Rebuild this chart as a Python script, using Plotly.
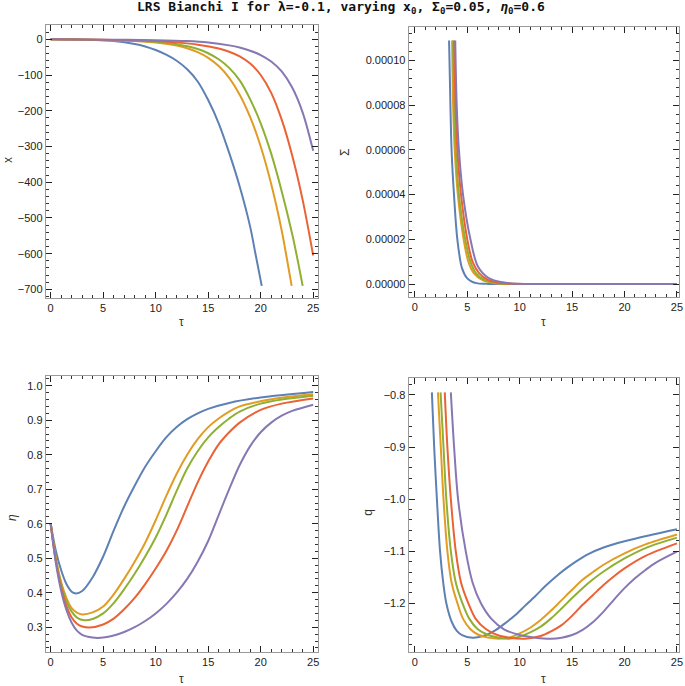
import plotly.graph_objects as go

COLORS = ["#5E81B5", "#E19C24", "#8FB032", "#EB6235", "#8778B3"]
SERIES = ["blue", "orange", "green", "red", "purple"]

# ---- panel 1: x(tau) ----
x_tau = {
    "blue":   [0, 2, 4, 6, 8, 9, 10, 11, 12, 13, 14, 15, 16, 17, 18, 19, 19.5, 20.1],
    "orange": [0, 4, 8, 10, 12, 13, 14, 15, 16, 17, 18, 19, 20, 21, 22, 22.5, 22.95],
    "green":  [0, 4, 8, 10, 12, 14, 15, 16, 17, 18, 19, 20, 21, 22, 23, 23.5, 24.0],
    "red":    [0, 5, 10, 12, 14, 16, 17, 18, 19, 20, 21, 22, 23, 24, 25],
    "purple": [0, 5, 10, 13, 15, 17, 18, 19, 20, 21, 22, 23, 24, 25],
}
x_val = {
    "blue":   [0, -0.5, -2, -5, -13, -20, -30, -43, -60, -84, -118, -170, -235, -318, -412, -525, -600, -690],
    "orange": [0, -1.5, -4.5, -9, -17.5, -25, -36, -52, -75, -108, -155, -218, -300, -405, -535, -615, -690],
    "green":  [0, -1.5, -4, -7, -14, -27, -39, -56, -80, -115, -168, -235, -320, -425, -545, -615, -690],
    "red":    [0, -1.5, -5, -9, -15, -26, -35, -48, -68, -100, -150, -225, -325, -450, -605],
    "purple": [0, -1, -2.5, -5, -9, -17, -23, -32, -44, -62, -90, -135, -205, -312],
}

# ---- panel 2: Sigma(tau) ----
s_tau = {
    "blue":   [3.26, 3.39, 3.5, 3.73, 4.05, 4.5, 5.0, 5.5, 6.0, 7, 8, 25],
    "orange": [3.55, 3.65, 3.8, 4.1, 4.65, 5.1, 5.6, 6.5, 7.5, 9, 10, 25],
    "green":  [3.65, 3.75, 3.9, 4.2, 4.8, 5.3, 5.8, 6.7, 7.8, 9, 10, 25],
    "red":    [3.75, 3.88, 4.05, 4.4, 5.0, 5.5, 6.1, 7.0, 8.2, 9.5, 11, 25],
    "purple": [3.85, 3.99, 4.2, 4.59, 5.3, 6.0, 7.0, 8.0, 9.0, 10, 11, 25],
}
s_val = {
    "blue":   [1.09e-4, 8e-5, 6e-5, 4e-5, 2e-5, 7e-6, 2.5e-6, 9e-7, 3e-7, 5e-8, 0, 0],
    "orange": [1.09e-4, 8e-5, 6e-5, 4e-5, 2e-5, 1e-5, 5e-6, 1.6e-6, 5e-7, 1e-7, 0, 0],
    "green":  [1.09e-4, 8e-5, 6e-5, 4e-5, 2e-5, 1e-5, 5e-6, 1.6e-6, 5e-7, 1e-7, 0, 0],
    "red":    [1.09e-4, 8e-5, 6e-5, 4e-5, 2e-5, 1e-5, 5e-6, 1.8e-6, 5e-7, 1e-7, 0, 0],
    "purple": [1.09e-4, 8e-5, 6e-5, 4e-5, 2e-5, 8e-6, 2.8e-6, 1.1e-6, 4e-7, 1e-7, 0, 0],
}

# ---- panel 3: eta(tau) ----
e_tau = {
    "blue":   [0, 0.5, 1, 1.5, 2, 2.4, 3, 4, 5, 6, 7, 8, 9, 10, 11, 12, 13, 14, 15, 17, 20, 25],
    "orange": [0, 0.5, 1, 1.5, 2, 2.5, 3, 4, 5, 6, 7, 8, 9, 10, 11, 12, 13, 14, 15, 16, 17, 18, 20, 22, 25],
    "green":  [0, 0.5, 1, 1.5, 2, 2.5, 3.2, 4, 5, 6, 7, 8, 9, 10, 11, 12, 13, 14, 15, 16, 17, 18, 20, 22, 25],
    "red":    [0, 0.5, 1, 1.5, 2, 2.5, 3, 3.7, 5, 6, 7, 8, 9, 10, 11, 12, 13, 14, 15, 16, 17, 18, 20, 22, 25],
    "purple": [0, 0.5, 1, 1.5, 2, 2.5, 3, 4, 4.5, 5, 6, 7, 8, 9, 10, 11, 12, 13, 14, 15, 16, 17, 18, 19, 20, 21, 22, 23, 25],
}
e_val = {
    "blue":   [0.6, 0.52, 0.465, 0.425, 0.403, 0.398, 0.405, 0.445, 0.505, 0.58, 0.65, 0.71, 0.765, 0.81, 0.85, 0.88, 0.903, 0.92, 0.933, 0.95, 0.966, 0.982],
    "orange": [0.6, 0.5, 0.43, 0.385, 0.355, 0.342, 0.337, 0.343, 0.36, 0.395, 0.44, 0.49, 0.545, 0.61, 0.68, 0.745, 0.80, 0.845, 0.88, 0.905, 0.925, 0.94, 0.955, 0.965, 0.975],
    "green":  [0.6, 0.495, 0.425, 0.375, 0.345, 0.328, 0.32, 0.324, 0.34, 0.37, 0.41, 0.455, 0.505, 0.56, 0.625, 0.695, 0.76, 0.81, 0.85, 0.88, 0.905, 0.925, 0.948, 0.96, 0.971],
    "red":    [0.6, 0.49, 0.415, 0.362, 0.328, 0.31, 0.302, 0.299, 0.308, 0.325, 0.352, 0.385, 0.425, 0.47, 0.52, 0.58, 0.65, 0.72, 0.78, 0.83, 0.865, 0.893, 0.93, 0.948, 0.963],
    "purple": [0.6, 0.485, 0.405, 0.35, 0.313, 0.29, 0.278, 0.27, 0.269, 0.27, 0.276, 0.286, 0.30, 0.318, 0.34, 0.367, 0.40, 0.44, 0.49, 0.55, 0.625, 0.70, 0.77, 0.825, 0.865, 0.893, 0.913, 0.927, 0.945],
}

# ---- panel 4: q(tau) ----
q_tau = {
    "blue":   [1.62, 1.84, 2.1, 2.4, 2.7, 3.0, 3.5, 4, 4.5, 5.5, 6.5, 7.5, 8.5, 9.5, 10.5, 11.5, 12.5, 13.5, 14.5, 15.5, 16.5, 18, 20, 22.5, 25],
    "orange": [2.2, 2.47, 2.73, 3.1, 3.5, 4.06, 4.6, 5.3, 6, 7, 8, 9, 10, 11, 12, 13, 14, 15, 16, 17, 18, 20, 22, 25],
    "green":  [2.45, 2.73, 3.0, 3.43, 3.9, 4.54, 5.2, 6.0, 7, 8, 9, 10, 11, 12, 13, 14, 15, 16, 17, 18, 20, 22, 25],
    "red":    [2.85, 3.1, 3.43, 3.9, 4.4, 5.1, 5.8, 6.8, 8, 9, 10.5, 12, 13, 14, 15, 16, 17, 18, 19, 20, 22, 25],
    "purple": [3.43, 3.74, 4.12, 4.85, 5.5, 6.3, 7.3, 8.5, 10, 11.5, 13, 14, 15, 16, 17, 18, 19, 20, 21, 22, 23, 25],
}
q_val = {
    "blue":   [-0.795, -0.9, -1.0, -1.1, -1.16, -1.2, -1.235, -1.253, -1.261, -1.266, -1.263, -1.254, -1.24, -1.224, -1.205, -1.186, -1.166, -1.148, -1.132, -1.118, -1.106, -1.093, -1.081, -1.069, -1.058],
    "orange": [-0.795, -0.9, -1.0, -1.1, -1.16, -1.2, -1.23, -1.25, -1.26, -1.266, -1.268, -1.266, -1.258, -1.247, -1.232, -1.214, -1.194, -1.174, -1.155, -1.14, -1.126, -1.104, -1.087, -1.068],
    "green":  [-0.795, -0.9, -1.0, -1.1, -1.16, -1.2, -1.23, -1.25, -1.261, -1.266, -1.268, -1.264, -1.256, -1.245, -1.229, -1.21, -1.19, -1.171, -1.154, -1.139, -1.114, -1.094, -1.074],
    "red":    [-0.795, -0.9, -1.0, -1.1, -1.16, -1.2, -1.23, -1.25, -1.262, -1.266, -1.268, -1.263, -1.254, -1.242, -1.224, -1.203, -1.184, -1.165, -1.148, -1.133, -1.109, -1.085],
    "purple": [-0.795, -0.9, -1.0, -1.1, -1.16, -1.2, -1.23, -1.25, -1.261, -1.266, -1.268, -1.266, -1.261, -1.251, -1.236, -1.216, -1.193, -1.171, -1.152, -1.136, -1.122, -1.101],
}

TITLE = "LRS Bianchi I for λ=-0.1, varying x<sub>0</sub>, Σ<sub>0</sub>=0.05, <i>η</i><sub>0</sub>=0.6"

fig = go.Figure()
panels = [(x_tau, x_val, "x", "y"), (s_tau, s_val, "x2", "y2"),
          (e_tau, e_val, "x3", "y3"), (q_tau, q_val, "x4", "y4")]
for taus, vals, xa, ya in panels:
    for name, col in zip(SERIES, COLORS):
        fig.add_trace(go.Scatter(x=taus[name], y=vals[name], mode="lines",
                                 line=dict(color=col, width=2, shape="spline", smoothing=0.9),
                                 xaxis=xa, yaxis=ya, showlegend=False, hoverinfo="skip"))

W, H = 685, 686
def dx(a, b): return [a / W, b / W]
def dy(top, bot): return [1 - bot / H, 1 - top / H]

tickfont = dict(family="Liberation Sans, Arial", size=11, color="#222")
common = dict(showgrid=False, zeroline=False, showline=True, linecolor="#999", linewidth=1,
              mirror="allticks", ticks="inside", ticklen=6, tickcolor="#222", tickwidth=1,
              tickfont=tickfont, ticklabeloverflow="allow")

def minor(d):
    return dict(ticks="inside", ticklen=3, tickcolor="#333", tickwidth=1, dtick=d, showgrid=False)

fig.update_layout(
    width=W, height=H, margin=dict(l=0, r=0, t=0, b=0),
    paper_bgcolor="white", plot_bgcolor="white",
    xaxis=dict(domain=dx(46, 320), range=[-0.47, 25.47], dtick=5, minor=minor(1), anchor="y", **common),
    yaxis=dict(domain=dy(25, 298), range=[-724, 40], dtick=100, minor=minor(20), anchor="x", **common),
    xaxis2=dict(domain=dx(411, 683), range=[-0.6, 25.2], dtick=5, minor=minor(1), anchor="y2", **common),
    yaxis2=dict(domain=dy(27, 297), range=[-0.0000058, 0.000115], dtick=0.00002, tickformat=".5f",
                minor=minor(0.000004), anchor="x2", **common),
    xaxis3=dict(domain=dx(46, 320), range=[-0.47, 25.47], dtick=5, minor=minor(1), anchor="y3", **common),
    yaxis3=dict(domain=dy(375.7, 651.7), range=[0.229, 1.029], dtick=0.1, tickformat=".1f",
                minor=minor(0.02), anchor="x3", **common),
    xaxis4=dict(domain=dx(411, 683), range=[-0.6, 25.2], dtick=5, minor=minor(1), anchor="y4", **common),
    yaxis4=dict(domain=dy(378.3, 651.7), range=[-1.293, -0.768], dtick=0.1, tickformat=".1f",
                minor=minor(0.02), anchor="x4", **common),
)

labfont = dict(family="Liberation Sans, Arial", size=12, color="#333")
annos = [
    dict(x=342.5, y=7, text="<b>" + TITLE + "</b>", font=dict(family="DejaVu Sans Mono", size=13, color="#111"), textangle=0),
    dict(x=183, y=322, text="τ", font=labfont, textangle=0),
    dict(x=547, y=322, text="τ", font=labfont, textangle=0),
    dict(x=183, y=679, text="τ", font=labfont, textangle=0),
    dict(x=547, y=679, text="τ", font=labfont, textangle=0),
    dict(x=8, y=160, text="x", font=labfont, textangle=-90),
    dict(x=347, y=152, text="Σ", font=labfont, textangle=-90),
    dict(x=12, y=517, text="<i>η</i>", font=labfont, textangle=-90),
    dict(x=370, y=512, text="q", font=labfont, textangle=-90),
]
for a in annos:
    fig.add_annotation(x=a["x"] / W, y=1 - a["y"] / H, xref="paper", yref="paper",
                       text=a["text"], showarrow=False, font=a["font"], textangle=a["textangle"],
                       xanchor="center", yanchor="middle")

fig.write_html("out.html")
